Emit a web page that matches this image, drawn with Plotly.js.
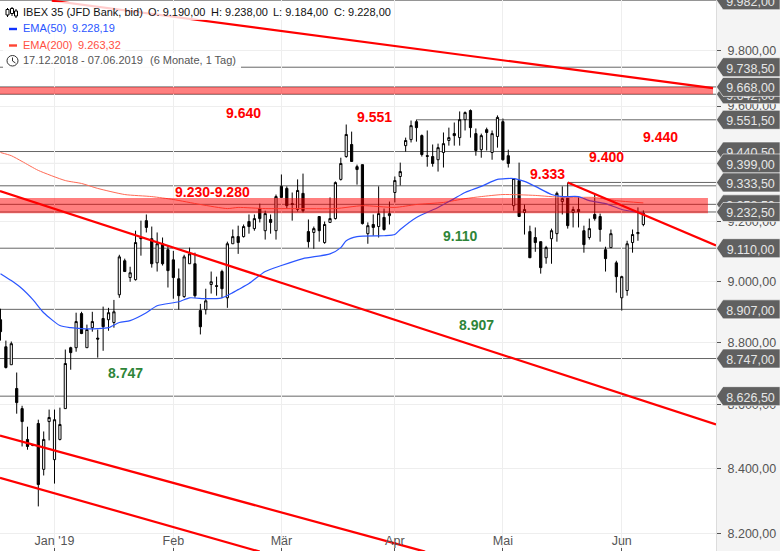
<!DOCTYPE html>
<html><head><meta charset="utf-8">
<script src="https://cdn.plot.ly/plotly-3.0.1.min.js"></script>
<style>html,body{margin:0;padding:0;background:#fff}#c{width:780px;height:551px}</style>
</head><body><div id="c"></div>
<script>
// ---- candle data (trading-day index 0 = 17.12.2018) ----
const openP=[8873,8785,8727,8651,8587,8490,8473,8540,8397,8546,8427,8490,8587,8782,8782,8893,8782,8847,8813,8877,8873,8864,8955,9068,9012,9005,9146,9203,9142,9061,9125,9105,9071,9008,8949,9058,9058,8903,8906,8989,8985,9032,8945,9125,9149,9149,9200,9176,9244,9169,9207,9169,9320,9313,9261,9241,9296,9166,9163,9217,9129,9197,9210,9344,9423,9465,9388,9395,9159,9190,9183,9214,9220,9299,9354,9461,9482,9545,9496,9426,9423,9412,9437,9479,9503,9489,9552,9584,9503,9447,9517,9437,9493,9545,9426,9254,9340,9231,9166,9146,9132,9078,9142,9159,9268,9285,9231,9241,9169,9146,9224,9217,9105,9112,9061,8945,8969,9129,9159,9190];
const highP=[8909,8805,8802,8702,8596,8530,8473,8552,8515,8584,8584,8590,8776,8785,8896,8899,8857,8899,8841,8916,8912,8938,9088,9075,9048,9169,9203,9224,9183,9163,9146,9118,9101,9042,9088,9112,9095,8925,8975,9032,9015,9038,9132,9173,9186,9190,9224,9224,9261,9237,9224,9292,9361,9320,9299,9344,9364,9207,9183,9217,9200,9282,9337,9419,9535,9510,9395,9395,9197,9224,9320,9244,9268,9354,9402,9489,9549,9552,9500,9514,9465,9468,9507,9524,9542,9581,9581,9588,9521,9503,9524,9514,9567,9556,9447,9347,9402,9258,9186,9180,9132,9118,9176,9302,9320,9333,9251,9285,9186,9210,9292,9227,9115,9173,9068,9018,9135,9173,9248,9238];
const lowP=[8805,8715,8727,8571,8468,8458,8469,8283,8378,8487,8353,8487,8587,8711,8769,8826,8782,8834,8750,8772,8837,8847,8945,9032,8998,9002,9085,9163,9045,9032,9052,8979,8942,8906,8945,9058,8945,8825,8890,8959,8952,8945,8912,9125,9091,9146,9159,9169,9197,9139,9159,9139,9282,9244,9203,9234,9231,9112,9108,9132,9125,9197,9207,9340,9419,9406,9326,9190,9125,9152,9146,9169,9190,9265,9323,9440,9472,9475,9423,9388,9388,9371,9385,9461,9461,9461,9514,9489,9426,9419,9444,9412,9454,9409,9385,9237,9217,9156,9078,9098,9025,9058,9058,9132,9224,9176,9180,9180,9095,9139,9203,9132,9032,9112,8962,8903,8952,9095,9135,9184];
const closeP=[8834,8718,8795,8606,8546,8468,8471,8350,8490,8559,8552,8537,8731,8766,8867,8828,8841,8867,8810,8850,8896,8899,9081,9032,9028,9129,9142,9180,9058,9125,9058,9035,9012,8952,9081,9091,8952,8850,8935,8998,8983,8975,9125,9149,9129,9183,9183,9210,9210,9227,9197,9285,9282,9254,9258,9306,9237,9132,9176,9169,9190,9210,9333,9399,9500,9406,9378,9193,9186,9180,9227,9173,9227,9340,9371,9479,9531,9524,9430,9424,9399,9454,9468,9489,9496,9552,9577,9524,9444,9496,9507,9503,9560,9412,9399,9347,9217,9241,9078,9129,9045,9112,9169,9296,9278,9186,9241,9234,9122,9176,9210,9173,9075,9159,9015,9015,9125,9156,9163,9228];

// ---- moving averages: trading-day index and value ----
const ema50Idx=[0,2,4,6,8,11,13,15,18,20,22,24,27,29,33,35,38,41,43,44,46,49,52,56,61,63,64,66,71,73,74,77,81,83,84,86,89,92,95,97,99,102,104,107,109,112,115,118,119];
const ema50Val=[9025,9002,8975,8939,8896,8854,8847,8844,8844,8847,8864,8870,8896,8919,8932,8945,8942,8945,8962,8972,8992,9032,9052,9075,9091,9112,9135,9149,9152,9156,9173,9214,9248,9268,9278,9299,9320,9344,9347,9337,9320,9292,9285,9285,9271,9261,9241,9231,9228.19];
const ema200Idx=[0,2,4,7,12,15,18,23,28,32,37,42,44,49,55,62,67,73,77,82,86,89,93,99,104,110,114,119];
const ema200Val=[9437,9426,9406,9375,9340,9330,9313,9292,9285,9275,9258,9244,9248,9244,9244,9244,9254,9248,9258,9265,9278,9285,9292,9289,9282,9282,9271,9263.32];

// ---- trend lines: index and value of both ends ----
const trendA={x:[9.5,131.9],y:[9980,9664]};
const trendB={x:[-0.1,132.45],y:[9304,8537]};
const trendC={x:[-0.1,78.6],y:[8502,8146]};
const trendD={x:[-0.1,48],y:[8371,8146]};
const trendE={x:[105,132.45],y:[9333,9119]};

// ---- horizontal levels ----
const levelVals=[9982,9738.5,9668,9642,9551.5,9440.5,9399,9333.5,9322,9258.5,9232.5,9110,8907,8747,8626.5];
const levelFrom=[-1,-1,-1,-1,77,-1,-1,105,-1,-1,-1,-1,-1,-1,-1];
const tagVals=[9982,9738.5,9642,9668,9551.5,9440.5,9399,9333.5,9258.5,9232.5,9110,8907,8747,8626.5];
const tagText=['9.982,00','9.738,50','9.642,00','9.668,00','9.551,50','9.440,50','9.399,00','9.333,50','9.258,50','9.232,50','9.110,00','8.907,00','8.747,00','8.626,50'];
const bandTop=[9668,9280], bandBottom=[9642,9228], bandEnd=[131.9,130.96];

// ---- axes ----
const yTicks=[8200,8400,8600,8800,9000,9200,9400,9600,9800];
const yTickText=['8.200,00','8.400,00','8.600,00','8.800,00','9.000,00','9.200,00','9.400,00','9.600,00','9.800,00'];
const xTicks=[10,32,52,73,93,115];
const xTickText=["Jan '19",'Feb','Mär','Apr','Mai','Jun'];

// ---- chart notes ----
const noteText=['9.640','9.551','9.333','9.400','9.440','9.230-9.280','9.110','8.907','8.747'];
const noteX=[244,374,547,606,660,212,460,476,125];
const noteY=[113,117,174,157,137,192,236,325,373];
const noteCol=['#ff0000','#ff0000','#ff0000','#ff0000','#ff0000','#ff0000','#2e8538','#2e8538','#2e8538'];

// ---- header texts ----
const hdrText=['IBEX 35 (JFD Bank, bid)','O: 9.190,00','H: 9.238,00','L: 9.184,00','C: 9.228,00','EMA(50)','9.228,19','EMA(200)','9.263,32','17.12.2018 - 07.06.2019','(6 Monate, 1 Tag)'];
const hdrX=[23,148,211,273,334,23,72,23,78,23,150];
const hdrY=[12.5,12.5,12.5,12.5,12.5,28.5,28.5,45,45,60.5,60.5];
const hdrCol=['#111','#111','#111','#111','#111','#2a55ff','#2a55ff','#ff4f3f','#ff4f3f','#555','#555'];

const W=780,H=551,PW=716;
const yRange=[3.91105,3.99925], xRange=[-0.09,132.45];
const px=x=>x/PW, py=y=>1-y/H;
const pOf=v=>(Math.log10(v)-yRange[0])/(yRange[1]-yRange[0]);
const FONT='"Liberation Sans",Arial,sans-serif';

const idx=openP.map((_,i)=>i);
const traces=[
 {type:'candlestick',x:idx,open:openP,high:highP,low:lowP,close:closeP,whiskerwidth:0,
  increasing:{line:{color:'#000',width:1},fillcolor:'#fff'},
  decreasing:{line:{color:'#000',width:1},fillcolor:'#000'},hoverinfo:'skip',showlegend:false},
 {type:'scatter',mode:'lines',x:ema200Idx,y:ema200Val,line:{color:'#ff6a55',width:1,shape:'spline',smoothing:0.6},hoverinfo:'skip'},
 {type:'scatter',mode:'lines',x:ema50Idx,y:ema50Val,line:{color:'#2a55ff',width:1.2,shape:'spline',smoothing:0.6},hoverinfo:'skip'},
];
[trendA,trendB,trendC,trendD,trendE].forEach(t=>traces.push({type:'scatter',mode:'lines',x:t.x,y:t.y,line:{color:'#ff0000',width:2.2},hoverinfo:'skip'}));

const shapes=[];
xTicks.forEach(t=>shapes.push({type:'rect',layer:'below',xref:'x',yref:'paper',x0:t-3.5,x1:t+3.5,y0:py(547),y1:py(534),fillcolor:'#fff',line:{width:0}}));
levelVals.forEach((v,i)=>shapes.push({type:'line',layer:'below',xref:'x',yref:'y',x0:levelFrom[i],x1:xRange[1],y0:v,y1:v,line:{color:'#666',width:1}}));
bandTop.forEach((v,i)=>shapes.push({type:'rect',layer:'above',xref:'x',yref:'y',x0:xRange[0],x1:bandEnd[i],y0:bandBottom[i],y1:v,fillcolor:'rgba(255,0,0,0.5)',line:{width:0}}));
tagVals.forEach((v,i)=>{
  const c=pOf(v), h=9.5/H, r=W/PW, e=(PW+7)/PW, t=(PW+0.5)/PW;
  shapes.push({type:'path',layer:'above',xref:'paper',yref:'paper',
    path:`M ${t} ${c} L ${e} ${c+h} L ${r} ${c+h} L ${r} ${c-h} L ${e} ${c-h} Z`,
    fillcolor:'#606060',line:{color:'#fff',width:0.6}});
  shapes.push({type:'rect',layer:'above',xref:'paper',yref:'paper',x0:(PW+5)/PW,x1:(PW+64)/PW,y0:c-h+0.001,y1:c+h-0.001,
    fillcolor:'rgba(0,0,0,0)',line:{width:0},
    label:{text:tagText[i],font:{family:FONT,size:12.5,color:'#e6e6e6'},textposition:'middle center'}});
});
// translucent panel behind the header
[[3,2,392,20,0.8],[3,20,125,53,0.8],[3,53,241,68,0.96]].forEach(b=>shapes.push({type:'rect',layer:'above',xref:'paper',yref:'paper',x0:px(b[0]),x1:px(b[2]),y0:py(b[3]),y1:py(b[1]),fillcolor:`rgba(255,255,255,${b[4]})`,line:{width:0}}));
function seg(x0,y0,x1,y1,col,w){shapes.push({type:'line',layer:'above',xref:'paper',yref:'paper',x0:px(x0),x1:px(x1),y0:py(y0),y1:py(y1),line:{color:col,width:w}});}
[[7.5,8,17,9.5,15],[12,7,16,8.5,13.5],[16,9,18,11,16]].forEach(c=>{
  seg(c[0],c[1],c[0],c[2],'#000',1);
  shapes.push({type:'rect',layer:'above',xref:'paper',yref:'paper',x0:px(c[0]-1.5),x1:px(c[0]+1.5),y0:py(c[4]),y1:py(c[3]),fillcolor:'#fff',line:{color:'#000',width:1}});
});
seg(9,29,17,29,'#1133ff',2.4);
seg(9,45.5,17,45.5,'#ff4433',2.4);
shapes.push({type:'circle',layer:'above',xref:'paper',yref:'paper',x0:px(7),x1:px(18),y0:py(66),y1:py(55.5),fillcolor:'rgba(0,0,0,0)',line:{color:'#333',width:1}});
seg(12.5,57.5,12.5,61,'#333',1); seg(12.5,61,15.5,63,'#333',1);

const ann=[];
noteText.forEach((t,i)=>ann.push({xref:'paper',yref:'paper',x:px(noteX[i]),y:py(noteY[i]),text:'<b>'+t+'</b>',showarrow:false,xanchor:'center',yanchor:'middle',font:{family:FONT,size:14,color:noteCol[i]}}));
hdrText.forEach((t,i)=>ann.push({xref:'paper',yref:'paper',x:px(hdrX[i]),y:py(hdrY[i]),text:t,showarrow:false,xanchor:'left',yanchor:'middle',borderpad:0,borderwidth:0,font:{family:FONT,size:11,color:hdrCol[i]}}));

Plotly.newPlot('c',traces,{
 width:W,height:H,showlegend:false,hovermode:false,dragmode:false,
 margin:{l:0,r:W-PW,t:0,b:0,pad:0},
 paper_bgcolor:'#f4f4f4',plot_bgcolor:'#fff',boxgap:0.42,
 font:{family:FONT,size:12.5,color:'#555'},
 xaxis:{type:'linear',range:xRange,rangeslider:{visible:false},tickmode:'array',tickvals:xTicks,ticktext:xTickText,
   showgrid:true,gridcolor:'#eeeeee',gridwidth:1,zeroline:false,showline:false,ticks:'inside',ticklen:3,tickcolor:'#555',
   ticklabelposition:'inside',tickfont:{family:FONT,size:12.5,color:'#555'}},
 yaxis:{type:'log',side:'right',range:yRange,tickmode:'array',tickvals:yTicks,ticktext:yTickText,
   showgrid:true,gridcolor:'#eeeeee',gridwidth:1,zeroline:false,showline:true,linecolor:'#dcdcdc',linewidth:1,
   ticks:'outside',ticklen:4,tickcolor:'#555',ticklabelstandoff:4,tickfont:{family:FONT,size:12.5,color:'#555'}},
 shapes:shapes,annotations:ann
},{displayModeBar:false,staticPlot:true});
</script></body></html>
